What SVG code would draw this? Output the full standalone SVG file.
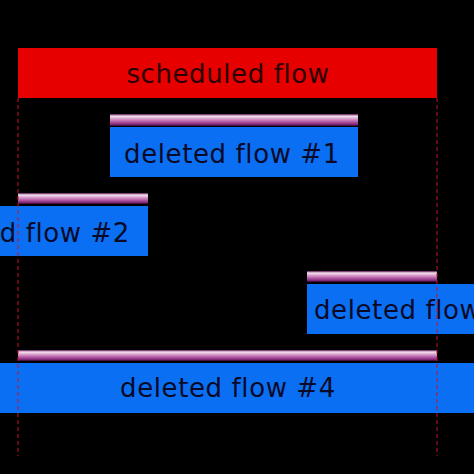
<svg xmlns="http://www.w3.org/2000/svg" width="474" height="474" viewBox="0 0 474 474">
<defs>
<linearGradient id="bar" x1="0" y1="0" x2="0" y2="1">
<stop offset="0" stop-color="#5a1050"/>
<stop offset="0.18" stop-color="#f4e4f0"/>
<stop offset="0.5" stop-color="#cc80bc"/>
<stop offset="0.85" stop-color="#8a2a80"/>
<stop offset="1" stop-color="#2a0828"/>
</linearGradient>
</defs>
<style>
.flow{fill:#0a6ff2}
.bar{fill:url(#bar)}
.lbl{font-family:"DejaVu Sans",Verdana,sans-serif;font-size:26px;letter-spacing:0.6px;fill:#0a0a28}
.guide{stroke:#c8102e;stroke-width:1;stroke-dasharray:4 3;fill:none}
</style>
<rect x="0" y="0" width="474" height="474" fill="#000"/>
<g id="scheduled">
<rect x="18" y="48" width="419" height="50" fill="#e60000"/>
<text class="lbl" x="228" y="83" text-anchor="middle" style="fill:#2a0000">scheduled flow</text>
</g>
<g id="flow1">
<rect class="bar" x="110" y="114" width="248" height="12"/>
<rect class="flow" x="110" y="127" width="248" height="50"/>
<text class="lbl" x="232" y="163" text-anchor="middle">deleted flow #1</text>
</g>
<g id="flow2">
<rect class="bar" x="18" y="193" width="130" height="11"/>
<rect class="flow" x="-40" y="206" width="188" height="50"/>
<text class="lbl" x="130" y="242" text-anchor="end">deleted flow #2</text>
</g>
<g id="flow3">
<rect class="bar" x="307" y="271" width="130" height="11"/>
<rect class="flow" x="307" y="284" width="200" height="50"/>
<text class="lbl" x="314" y="319">deleted flow #3</text>
</g>
<g id="flow4">
<rect class="bar" x="18" y="350" width="419" height="11"/>
<rect class="flow" x="0" y="363" width="474" height="50"/>
<text class="lbl" x="228" y="397" text-anchor="middle">deleted flow #4</text>
</g>
<g id="connectors">
<line class="guide" x1="18" y1="98" x2="18" y2="456"/>
<line class="guide" x1="437" y1="98" x2="437" y2="456"/>
</g>
</svg>
